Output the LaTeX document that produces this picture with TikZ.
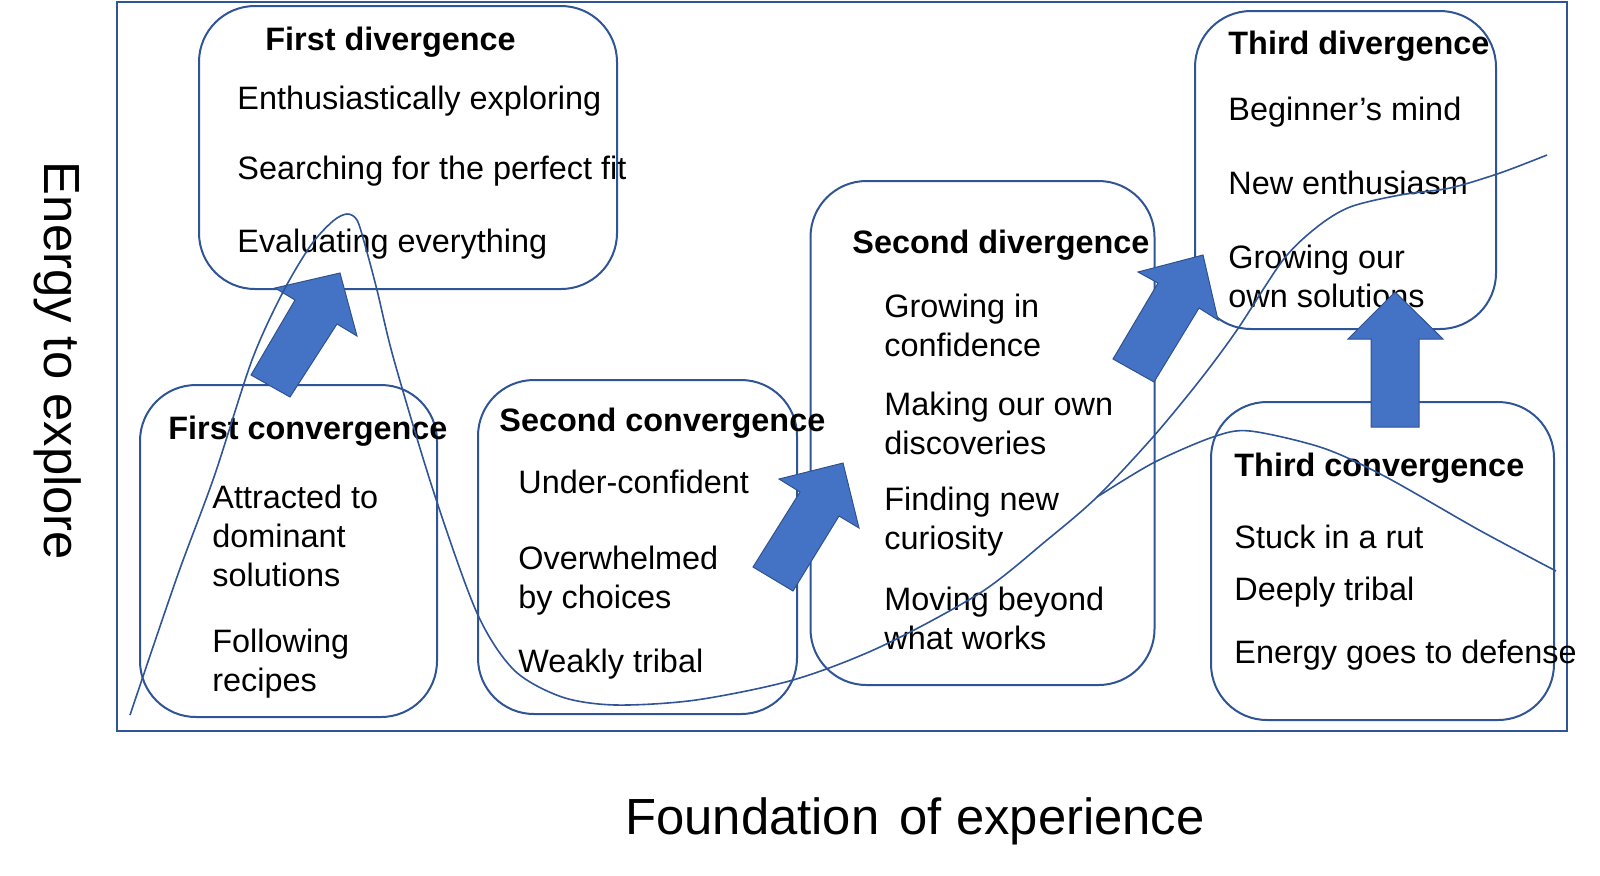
\documentclass[tikz,border=0pt]{standalone}
\usepackage{fontspec}
\setmainfont{Liberation Sans}
\definecolor{ln}{HTML}{2F5597}
\definecolor{arf}{HTML}{4472C4}
\definecolor{arl}{HTML}{2F528F}
\begin{document}
\begin{tikzpicture}[x=0.5pt,y=-0.5pt,
  box/.style={draw=ln, line width=1pt, rounded corners=28pt, inner sep=0pt},
  frame/.style={draw=ln, line width=1pt, inner sep=0pt},
  title/.style={font=\fontsize{16.2}{19.5}\selectfont\bfseries, anchor=west, inner sep=0pt, yshift=-1.6pt},
  item/.style={font=\fontsize{16.2}{19.5}\selectfont, anchor=west, inner sep=0pt, align=left, yshift=-1.6pt},
  axis/.style={font=\fontsize{25.4}{30}\selectfont, inner sep=0pt},
  blockarrow/.style={fill=arf, draw=arl, line width=0.5pt},
  curve/.style={draw=ln, line width=0.8pt}]
\useasboundingbox (0,0) rectangle (1600,875);
% frame
\node[frame, minimum width=725pt, minimum height=364.5pt] (frame) at (842,366.5) {};
% boxes
\node[box, minimum width=209pt, minimum height=141.5pt] (b1) at (408,147.5) {};
\node[box, minimum width=148.5pt, minimum height=166pt] (b2) at (288.5,551) {};
\node[box, minimum width=159.5pt, minimum height=167pt] (b3) at (637.5,547) {};
\node[box, minimum width=172pt, minimum height=252pt] (b4) at (982.5,433) {};
\node[box, minimum width=150.5pt, minimum height=159pt] (b5) at (1345.5,170) {};
\node[box, minimum width=171.5pt, minimum height=159pt] (b6) at (1382.5,561) {};
% texts box 1
\node[title] (t1) at (265,39) {First divergence};
\node[item] (t1a) at (237,98) {Enthusiastically exploring};
\node[item] (t1b) at (237,168) {Searching for the perfect fit};
\node[item] (t1c) at (237,241) {Evaluating everything};
% box 2
\node[title] (t2) at (168,428) {First convergence};
\node[item] (t2a) at (212,533) {Attracted to\\dominant\\solutions};
\node[item] (t2b) at (212,660) {Following\\recipes};
% box 3
\node[title] (t3) at (499,420) {Second convergence};
\node[item] (t3a) at (518,479) {Under-confident};
\node[item] (t3b) at (518,577) {Overwhelmed\\by choices};
\node[item] (t3c) at (518,661) {Weakly tribal};
% box 4
\node[title] (t4) at (852,242) {Second divergence};
\node[item] (t4a) at (884,322.5) {Growing in\\confidence};
\node[item] (t4b) at (884,420.5) {Making our own\\discoveries};
\node[item] (t4c) at (884,518.5) {Finding new\\curiosity};
\node[item] (t4d) at (884,615) {Moving beyond\\what works};
% box 5
\node[title] (t5) at (1228,43) {Third divergence};
\node[item] (t5a) at (1228,109) {Beginner’s mind};
\node[item] (t5b) at (1228,180) {New enthusiasm};
\node[item] (t5c) at (1228,273) {Growing our\\own solutions};
% box 6
\node[title] (t6) at (1234,465) {Third convergence};
\node[item] (t6a) at (1234,534) {Stuck in a rut};
\node[item] (t6b) at (1234,589) {Deeply tribal};
\node[item] (t6c) at (1234,652) {Energy goes to defense};
% axes
\node[axis, rotate=-90] (ylab) at (58,361) {Energy to explore};
\node[axis] (xlab) at (915,821) {Foundation\hspace{0.12em} of experience};
% block arrows
\path[blockarrow] (340,273) -- (275,288) -- (295,300) -- (251,375) -- (290,397) -- (337,324) -- (357,336) -- cycle;
\path[blockarrow] (843,463) -- (779,479) -- (800,492) -- (753,567) -- (793,591) -- (839,516) -- (859,528) -- cycle;
\path[blockarrow] (1203,255) -- (1138,272) -- (1158,283) -- (1113,359) -- (1154,382) -- (1199,308) -- (1218,320) -- cycle;
\path[blockarrow] (1395,292) -- (1348,339) -- (1371,339) -- (1371,427) -- (1419,427) -- (1419,339) -- (1443,339) -- cycle;
% curves
\draw[curve] plot[smooth, tension=0.5] coordinates {
 (130,715) (177,577) (214,477) (252,360) (283,292) (311,245) (333,221) (347,214)
 (357,220) (365,245) (377,290) (394,360) (434,493) (477,613) (514,670) (562,697)
 (616,705) (696,700) (793,680) (880,647) (980,593) (1047,540) (1097,497)
 (1153,437) (1200,380) (1237,330) (1283,260) (1317,227) (1350,207) (1400,195)
 (1450,188) (1500,173) (1547,155)};
\draw[curve] plot[smooth, tension=0.5] coordinates {
 (1097,497) (1153,463) (1213,437) (1250,431) (1323,448) (1386,477) (1479,530) (1556,571)};
\end{tikzpicture}
\end{document}
